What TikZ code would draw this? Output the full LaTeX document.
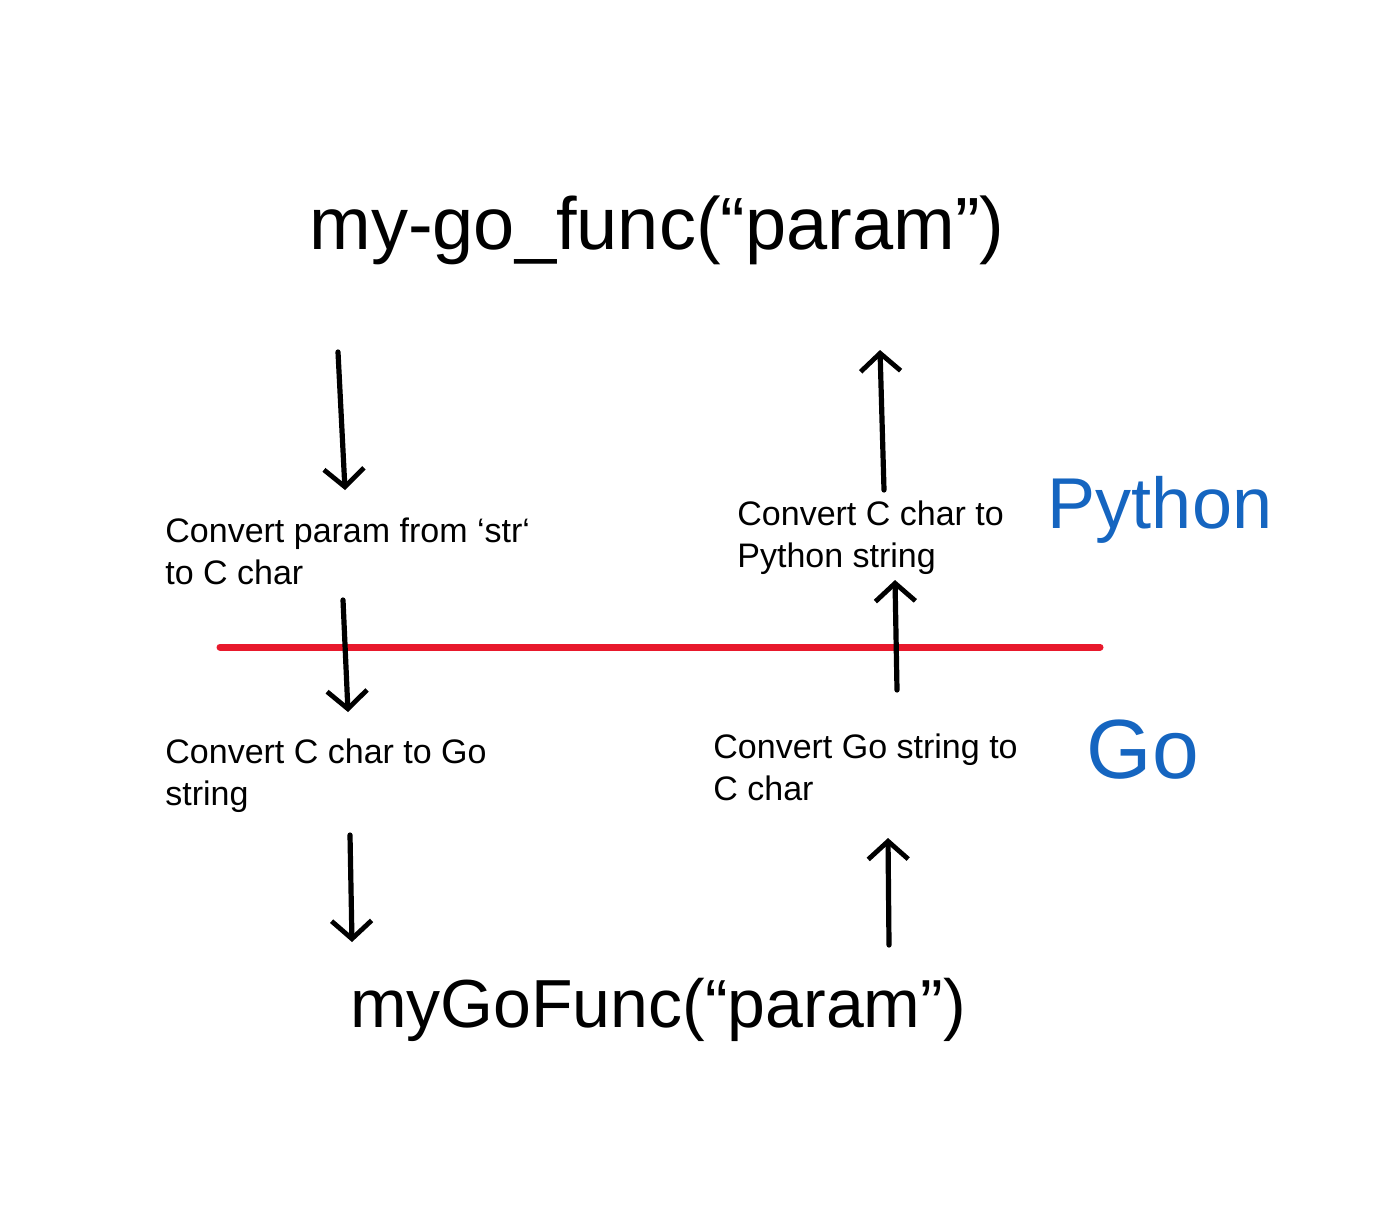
\documentclass[tikz,border=0pt]{standalone}
\usepackage{fontspec}
\setmainfont{Liberation Sans}
\usetikzlibrary{arrows.meta}
\definecolor{pyblue}{HTML}{1565C0}
\definecolor{linered}{HTML}{E8192C}
\begin{document}
\begin{tikzpicture}[x=0.5pt,y=-0.5pt,
  arr/.style={line width=2.6pt,line cap=round,-{Straight Barb[length=9pt,width=20pt,line width=2.4pt]}},
  small/.style={font=\fontsize{17}{21}\selectfont,align=left,anchor=west,inner sep=0},
  big/.style={font=\fontsize{37}{44}\selectfont,inner sep=0},
  lang/.style={font=\fontsize{36}{50}\selectfont,text=pyblue,inner sep=0}]
\useasboundingbox (0,0) rectangle (1400,1212);
\node[big] (top) at (657,230) {my-go\_func(“param”)};
\node[big,font=\fontsize{34}{40}\selectfont] (bot) at (658,1010) {myGoFunc(“param”)};
\node[small] (t1) at (165,551) {Convert param from `str`\\to C char};
\node[small] (t2) at (165,776) {Convert C char to Go\\string};
\node[small] (t3) at (713,767) {Convert Go string to\\C char};
\node[small] (t4) at (737,538) {Convert C char to\\Python string};
\node[lang] (py) at (1160,510) {Python};
\node[lang,font=\fontsize{42}{50}\selectfont] (go) at (1143,750) {Go};
\coordinate (r1) at (220,647); \coordinate (r2) at (1100,647);
\draw[linered,line width=3.5pt,line cap=round] (r1) -- (r2);
\coordinate (a1) at (338,352); \coordinate (b1) at (345,490);
\coordinate (a2) at (343,600); \coordinate (b2) at (348,712);
\coordinate (a3) at (350,835); \coordinate (b3) at (352,942);
\coordinate (a4) at (889,945); \coordinate (b4) at (888,838);
\coordinate (a5) at (897,690); \coordinate (b5) at (895,580);
\coordinate (a6) at (884,490); \coordinate (b6) at (880,350);
\foreach \i in {1,...,6} \draw[arr] (a\i) -- (b\i);
\end{tikzpicture}
\end{document}
